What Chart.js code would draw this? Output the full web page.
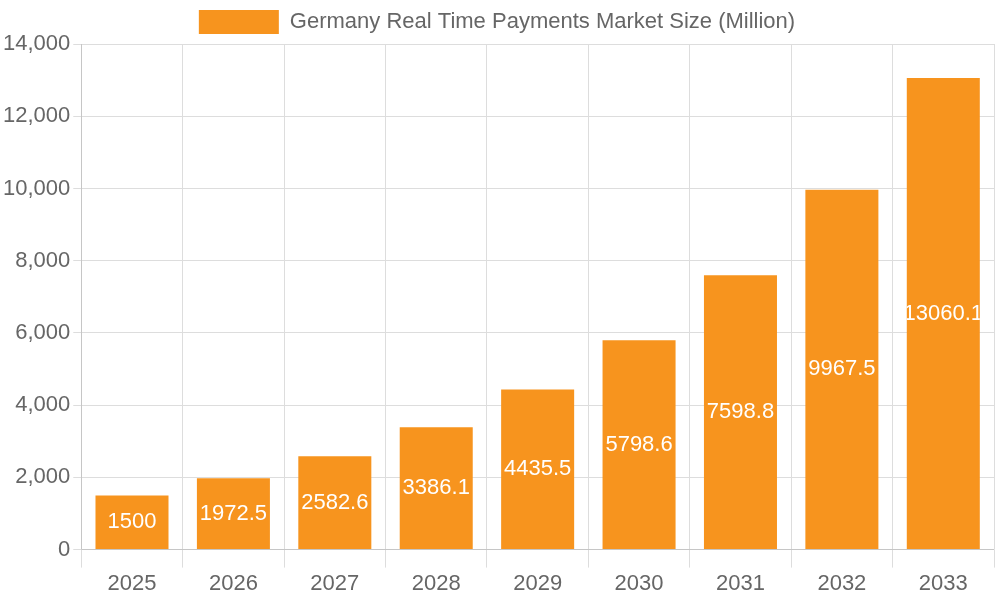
<!DOCTYPE html>
<html><head><meta charset="utf-8">
<script src="https://cdn.jsdelivr.net/npm/chart.js@4"></script>
<style>html,body{margin:0;padding:0;background:#fff}#w{width:1000px;height:600px}</style>
</head><body><div id="w"><canvas id="c"></canvas></div>
<script>
const years = ["2025","2026","2027","2028","2029","2030","2031","2032","2033"];
const marketSize = [1500, 1972.5, 2582.6, 3386.1, 4435.5, 5798.6, 7598.8, 9967.5, 13060.1];
const seriesLabel = "Germany Real Time Payments Market Size (Million)";

const labelPlugin = {
  id: 'inLabels',
  afterDatasetsDraw(chart) {
    const ctx = chart.ctx;
    const meta = chart.getDatasetMeta(0);
    meta.data.forEach((bar, i) => {
      const p = bar.getProps(['x','y','base','width'], true);
      ctx.save();
      ctx.beginPath();
      ctx.rect(p.x - p.width/2, p.y, p.width, p.base - p.y);
      ctx.clip();
      ctx.fillStyle = '#fff';
      ctx.font = '22px "Liberation Sans", Arial, sans-serif';
      ctx.textAlign = 'center';
      ctx.textBaseline = 'middle';
      ctx.fillText(String(marketSize[i]), p.x, (p.y + p.base) / 2);
      ctx.restore();
    });
  }
};

Chart.defaults.font.family = '"Liberation Sans", Arial, sans-serif';
Chart.defaults.color = '#666';
new Chart(document.getElementById('c'), {
  type: 'bar',
  data: { labels: years, datasets: [{ label: seriesLabel, data: marketSize, backgroundColor: '#F7941E' }] },
  options: {
    responsive: true, maintainAspectRatio: false, animation: false,
    layout: { padding: { right: 6 } },
    plugins: {
      legend: { labels: { font: { size: 22 }, boxWidth: 80, boxHeight: 24 } },
      tooltip: { enabled: false }
    },
    scales: {
      x: { ticks: { font: { size: 22 } }, grid: { color: '#ddd', tickLength: 18 } },
      y: { min: 0, max: 14000, ticks: { stepSize: 2000, font: { size: 22 } }, grid: { color: '#ddd' } }
    }
  },
  plugins: [labelPlugin]
});
</script></body></html>
